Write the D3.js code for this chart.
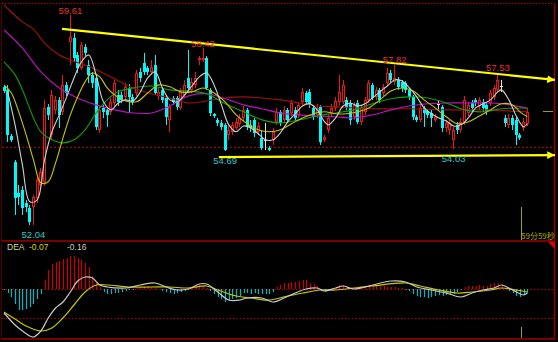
<!DOCTYPE html>
<html><head><meta charset="utf-8">
<script src="https://cdn.jsdelivr.net/npm/d3@7"></script>
<style>html,body{margin:0;padding:0;background:#000;}svg{display:block;}</style>
</head><body><svg id="c" width="558" height="342"></svg>
<script>
// ---- candle data [open, high, low, close] ----
const ohlc = [
[57.02,57.09,56.80,56.87],[56.91,57.09,55.04,55.29],[55.25,55.33,55.04,55.11],[54.32,54.39,52.41,53.02],
[53.20,53.49,52.77,53.06],[53.31,53.45,52.41,52.66],[52.84,52.95,52.52,52.70],[52.66,52.77,52.05,52.16],
[52.70,53.13,52.04,53.06],[53.02,53.81,52.84,53.67],[53.49,54.10,53.31,53.96],[53.60,56.55,53.45,56.26],
[56.30,56.41,55.83,56.01],[55.29,56.91,55.11,56.73],[56.19,56.69,56.05,56.55],[56.55,56.66,55.54,56.01],
[56.12,57.45,56.01,57.09],[57.09,57.20,56.69,56.80],[58.64,59.61,57.81,58.82],[58.78,58.96,57.92,58.06],
[58.17,58.28,57.52,57.70],[57.70,58.64,57.63,58.53],[58.46,58.57,58.13,58.24],[57.81,57.99,57.16,57.45],
[57.45,57.56,56.98,57.16],[57.34,57.45,55.47,55.58],[55.47,56.37,55.36,56.19],[56.26,56.37,55.90,56.12],
[56.19,56.30,55.58,56.01],[56.12,56.62,56.01,56.48],[56.44,57.27,56.33,57.16],[56.73,56.91,56.33,56.48],
[56.73,56.84,56.44,56.55],[56.66,57.16,56.55,57.02],[56.98,57.13,56.08,56.66],[56.66,56.77,56.37,56.48],
[56.80,57.63,56.69,57.52],[57.56,57.70,57.20,57.34],[57.88,58.24,57.45,57.56],[57.70,57.77,57.45,57.56],
[57.56,57.99,57.49,57.74],[57.81,58.17,56.73,56.80],[56.69,56.98,56.55,56.84],[56.91,57.02,56.44,56.55],
[56.62,56.73,55.65,55.94],[55.83,56.41,55.40,56.30],[56.62,56.69,56.37,56.48],[56.62,56.69,56.19,56.30],
[56.26,56.98,56.19,56.84],[56.73,57.27,56.62,57.09],[57.34,58.35,56.84,56.98],[56.91,57.34,56.80,57.20],
[57.09,57.56,56.98,57.34],[57.99,58.13,57.81,58.06],[57.99,58.42,57.92,58.06],[58.06,58.13,56.91,56.98],
[56.91,56.98,55.97,56.08],[56.05,56.08,55.90,55.97],[55.83,55.90,55.61,55.72],[55.72,55.83,55.47,55.58],
[55.65,55.72,54.69,54.75],[55.29,55.61,55.11,55.47],[55.40,55.76,55.29,55.65],[55.54,55.90,55.47,55.76],
[55.69,56.05,55.58,55.90],[55.90,56.33,55.79,56.19],[56.19,56.26,55.47,55.58],[55.65,55.83,55.40,55.54],
[55.83,55.90,55.22,55.36],[55.40,55.76,55.29,55.61],[55.18,55.47,54.75,54.82],[55.11,55.72,54.75,55.11],
[54.82,54.89,54.71,54.75],[55.11,55.54,54.93,55.40],[55.76,56.26,55.65,56.12],[56.12,56.19,55.61,55.72],
[55.83,56.33,55.72,56.19],[56.19,56.26,55.72,55.83],[56.08,56.55,55.97,56.44],[56.19,56.30,55.79,55.90],
[56.01,56.48,55.90,56.37],[56.48,56.98,56.37,56.84],[56.80,56.87,56.37,56.48],[56.84,56.95,56.26,56.37],
[56.26,56.37,55.83,55.94],[56.01,56.41,55.90,56.26],[56.30,56.37,54.93,55.04],[55.11,55.29,55.04,55.22],
[55.47,56.01,55.36,55.90],[56.08,56.41,55.97,56.26],[56.26,56.66,56.15,56.51],[56.48,57.45,56.37,56.84],
[56.48,57.27,56.41,57.09],[56.55,56.66,56.19,56.30],[56.44,56.55,55.65,55.83],[55.94,56.48,55.83,56.37],
[56.44,56.55,55.69,55.76],[55.76,56.37,55.65,56.26],[56.12,56.66,56.01,56.55],[56.55,57.27,56.44,57.16],
[57.09,57.16,56.55,56.62],[56.66,57.02,56.55,56.91],[56.91,56.98,56.44,56.55],[56.80,57.13,56.69,57.02],
[57.16,57.70,57.05,57.52],[57.52,57.63,57.16,57.27],[57.20,57.82,57.09,57.34],[57.27,57.38,56.91,57.02],
[57.20,57.27,56.84,56.98],[57.16,57.23,56.80,56.91],[56.91,56.98,56.55,56.66],[56.66,56.73,55.83,55.94],
[55.94,56.01,55.76,55.83],[55.83,56.37,55.76,56.26],[56.26,56.33,55.58,56.08],[56.15,56.23,55.90,56.01],
[56.08,56.19,55.58,55.90],[55.83,56.05,55.76,55.94],[56.41,56.55,56.19,56.41],[56.30,56.37,55.40,55.54],
[55.54,55.83,55.40,55.72],[55.47,55.83,55.29,55.72],[55.11,55.58,54.79,55.47],[55.65,55.76,55.33,55.47],
[55.47,55.90,55.36,55.76],[55.76,56.69,55.65,56.55],[56.08,56.48,55.97,56.37],[56.44,56.55,56.15,56.26],
[56.55,56.62,56.33,56.44],[56.33,56.66,56.19,56.55],[56.48,56.59,56.12,56.26],[56.37,56.44,56.01,56.12],
[56.44,56.91,56.33,56.80],[56.66,57.09,56.55,56.98],[56.91,57.53,56.80,57.27],[57.05,57.27,56.84,57.05],
[55.90,56.01,55.58,55.72],[55.65,56.05,55.54,55.90],[55.90,56.01,55.47,55.65],[55.83,55.94,54.93,55.29],
[55.29,55.36,55.11,55.18],[55.54,55.90,55.43,55.76],[55.69,56.26,55.61,56.12]
];
// ---- moving averages, read at candle indices [index, value] ----
const ma5 = [[1,56.84],[3,55.65],[5,54.21],[7,52.88],[9,52.95],[11,54.39],[13,55.40],[15,56.01],[17,56.66],[19,57.34],[21,57.92],[23,58.17],[25,57.45],[27,56.48],[29,56.19],[31,56.44],[33,56.55],[35,56.51],[37,56.84],[39,57.34],[41,57.56],[43,56.98],[45,56.55],[47,56.48],[49,56.73],[51,57.05],[53,57.38],[55,57.52],[57,57.09],[59,56.37],[61,55.65],[63,55.40],[65,55.61],[67,55.54],[69,55.33],[71,55.11],[73,55.11],[75,55.36],[77,55.76],[79,56.05],[81,56.33],[83,56.41],[85,56.19],[87,55.76],[88,55.65],[90,55.90],[92,56.33],[94,56.44],[96,56.33],[98,56.41],[100,56.62],[102,56.84],[104,57.05],[106,57.27],[108,57.23],[110,56.98],[112,56.66],[114,56.26],[116,56.05],[118,55.90],[120,55.79],[122,55.61],[124,55.65],[126,55.90],[128,56.26],[130,56.41],[132,56.55],[134,56.84],[135,56.91],[137,56.55],[139,55.97],[141,55.58],[142,55.69]];
const ma10 = [[0,57.09],[2,56.80],[4,56.12],[6,55.29],[8,54.39],[10,53.56],[12,53.60],[14,54.28],[16,55.18],[18,56.01],[20,56.66],[22,57.20],[24,57.52],[26,57.38],[28,56.98],[30,56.73],[33,56.51],[36,56.48],[39,56.80],[42,57.09],[45,57.02],[48,56.84],[51,56.84],[54,56.98],[57,56.80],[60,56.48],[63,56.01],[66,55.69],[69,55.47],[72,55.40],[75,55.47],[78,55.69],[81,55.90],[84,56.05],[87,56.12],[90,56.05],[93,56.05],[96,56.12],[99,56.26],[102,56.55],[105,56.87],[108,56.98],[111,56.87],[114,56.55],[117,56.26],[120,55.94],[123,55.69],[126,55.76],[129,55.97],[132,56.19],[135,56.41],[138,56.37],[140,56.12],[142,55.94]];
const ma20 = [[0,57.92],[3,57.45],[5,56.91],[8,55.90],[10,55.40],[13,55.11],[16,55.00],[19,55.11],[22,55.47],[25,56.08],[28,56.55],[31,56.84],[35,56.98],[40,57.05],[45,56.91],[50,56.87],[55,56.77],[60,56.41],[65,56.12],[70,55.83],[75,55.72],[80,55.83],[85,55.97],[90,56.08],[95,56.19],[100,56.41],[105,56.59],[110,56.66],[115,56.62],[120,56.44],[125,56.19],[130,56.12],[135,56.23],[142,56.26]];
const ma60 = [[0,59.07],[5,58.42],[10,57.56],[15,56.98],[20,56.62],[25,56.37],[30,56.19],[35,56.08],[40,56.08],[45,56.33],[50,56.69],[55,56.77],[60,56.59],[65,56.37],[70,56.23],[75,56.08],[80,56.01],[85,55.97],[90,55.94],[95,55.90],[100,56.01],[105,56.19],[110,56.33],[115,56.41],[120,56.44],[125,56.44],[130,56.44],[135,56.41],[142,56.26]];
const ma120 = [[0,59.97],[5,59.36],[8,59.10],[11,58.60],[15,58.17],[18,57.99],[24,57.70],[30,57.31],[35,56.98],[40,56.77],[45,56.62],[50,56.44],[55,56.51],[60,56.62],[65,56.66],[70,56.62],[75,56.55],[80,56.44],[85,56.33],[90,56.30],[95,56.26],[100,56.23],[110,56.23],[120,56.19],[130,56.19],[142,56.12]];
// ---- MACD ----
const macdHist = [-0.01,-0.04,-0.08,-0.15,-0.21,-0.21,-0.20,-0.18,-0.15,-0.10,-0.05,
0.09,0.19,0.25,0.27,0.28,0.30,0.31,0.33,0.33,0.31,0.29,0.26,0.22,0.13,0.06,0.02,
-0.03,-0.05,-0.05,-0.04,-0.04,-0.03,-0.02,-0.01,-0.01,
0.01,0.02,0.02,0.03,0.02,0.01,0.00,
-0.02,-0.03,-0.04,-0.05,-0.04,-0.03,-0.02,-0.01,
0.02,0.03,0.04,0.03,0.01,
-0.02,-0.05,-0.08,-0.10,-0.13,-0.12,-0.10,-0.09,-0.07,-0.04,-0.04,-0.05,-0.04,-0.05,-0.05,-0.05,-0.05,-0.03,
0.02,0.04,0.06,0.06,0.07,0.07,0.08,0.09,0.09,0.06,0.05,0.03,
-0.02,-0.03,-0.01,
0.01,0.02,0.04,0.04,0.02,0.01,0.01,0.02,0.03,0.03,0.04,0.03,0.03,0.03,0.03,0.02,0.02,0.02,0.01,0.01,
-0.01,-0.02,-0.05,-0.07,-0.08,-0.08,-0.09,-0.08,-0.07,-0.06,-0.07,-0.06,-0.06,-0.05,-0.03,-0.01,
0.02,0.03,0.03,0.03,0.04,0.03,0.03,0.05,0.06,0.06,0.04,0.01,
-0.02,-0.04,-0.07,-0.08,-0.06,-0.04];
const dif = [[0,-0.24],[3,-0.36],[5,-0.42],[7,-0.47],[8,-0.48],[10,-0.42],[12,-0.29],[14,-0.19],[16,-0.13],[18,-0.03],[20,0.08],[22,0.12],[24,0.11],[26,0.04],[28,0.02],[33,0.01],[37,0.04],[41,0.06],[44,0.02],[47,-0.01],[50,0.00],[53,0.05],[55,0.05],[58,-0.03],[61,-0.11],[64,-0.11],[66,-0.09],[70,-0.09],[73,-0.13],[76,-0.09],[79,-0.04],[82,0.00],[85,0.01],[87,-0.02],[90,0.01],[92,0.03],[95,0.00],[100,0.04],[105,0.08],[109,0.07],[112,0.02],[116,-0.01],[120,-0.04],[124,-0.08],[127,-0.04],[130,-0.01],[133,0.01],[135,0.04],[138,-0.01],[141,-0.06],[142,-0.04]];
const dea = [[0,-0.23],[3,-0.30],[6,-0.37],[10,-0.42],[13,-0.39],[16,-0.29],[19,-0.16],[22,-0.03],[25,0.04],[28,0.04],[34,0.02],[40,0.02],[45,0.02],[50,0.01],[55,0.03],[58,-0.01],[63,-0.07],[67,-0.09],[72,-0.11],[77,-0.07],[81,-0.04],[86,-0.01],[90,-0.01],[95,0.01],[100,0.03],[109,0.06],[113,0.03],[118,-0.01],[123,-0.04],[127,-0.03],[132,-0.01],[135,0.01],[139,-0.01],[142,-0.03]];
const macdTexts = ["DEA", "-0.07", "-0.16"];
// ---- annotations ----
const priceLabels = [
  {i:18, text:"59.61", at:"high"}, {i:54, text:"58.42", at:"high"},
  {i:106, text:"57.82", at:"high"}, {i:134, text:"57.53", at:"high"},
  {i:8, text:"52.04", at:"low"}, {i:60, text:"54.69", at:"low"},
  {i:122, text:"54.03", at:"low"}
];
const trendLines = [
  {i0:15.74, p0:59.11, i1:149.5, p1:57.27},
  {i0:58.3, p0:54.49, i1:149.5, p1:54.56}
];
const mainGrid = [54.86];
const macdGrid = [0, -0.29];
const timeText = "59分59秒";

// ---- scales ----
const svg = d3.select("#c");
const x = d3.scaleLinear().domain([0, 142]).range([4, 527.3]);
const y = d3.scaleLinear().domain([52.04, 59.61]).range([225, 15]);
const ym = d3.scaleLinear().domain([-0.5, 0.35]).range([339, 254]);
const UP = "#f01414", DOWN = "#00f8f8";
const font = "'Liberation Sans', Arial, sans-serif";

svg.append("rect").attr("width", 558).attr("height", 342).attr("fill", "#000");

// frame
const frame = svg.append("g");
frame.append("line").attr("x1", 2).attr("x2", 555).attr("y1", 3.5).attr("y2", 3.5)
  .attr("stroke", "#b00000").attr("stroke-dasharray", "1.5,1.5");
frame.append("line").attr("x1", 1.5).attr("x2", 1.5).attr("y1", 3).attr("y2", 340).attr("stroke", "#500000");
frame.append("line").attr("x1", 554.5).attr("x2", 554.5).attr("y1", 3).attr("y2", 340).attr("stroke", "#900000").attr("stroke-width", 1.5);
frame.append("line").attr("x1", 2).attr("x2", 555).attr("y1", 241).attr("y2", 241).attr("stroke", "#7a0000").attr("stroke-width", 2);
frame.append("line").attr("x1", 2).attr("x2", 555).attr("y1", 339).attr("y2", 339).attr("stroke", "#7a0000").attr("stroke-width", 2);
mainGrid.forEach(p => frame.append("line").attr("x1", 2).attr("x2", 554).attr("y1", Math.round(y(p)) + 0.5).attr("y2", Math.round(y(p)) + 0.5)
  .attr("stroke", "#b00000").attr("stroke-dasharray", "2,2"));
macdGrid.forEach(v => frame.append("line").attr("x1", 2).attr("x2", 554).attr("y1", Math.round(ym(v)) + 0.5).attr("y2", Math.round(ym(v)) + 0.5)
  .attr("stroke", "#b00000").attr("stroke-dasharray", "1.5,2"));
frame.append("path").attr("d", "M548,242L555,242L555,249Z").attr("fill", "#e00000");

// candles
const gC = svg.append("g");
ohlc.forEach((d, i) => {
  const [o, h, l, c] = d;
  const L = Math.round(x(i) - 1.5), xw = L + 1.5;
  const yo = Math.round(y(o)), yc = Math.round(y(c)), yh = Math.round(y(h)), yl = Math.round(y(l));
  if (c > o) {
    gC.append("line").attr("x1", xw).attr("x2", xw).attr("y1", yh).attr("y2", yc).attr("stroke", UP);
    gC.append("line").attr("x1", xw).attr("x2", xw).attr("y1", yo).attr("y2", yl).attr("stroke", UP);
    gC.append("rect").attr("x", L + 0.5).attr("y", yc + 0.5).attr("width", 2).attr("height", Math.max(yo - yc - 1, 1))
      .attr("fill", "none").attr("stroke", UP);
  } else if (c < o) {
    gC.append("line").attr("x1", xw).attr("x2", xw).attr("y1", yh).attr("y2", yl).attr("stroke", DOWN);
    gC.append("rect").attr("x", L).attr("y", yo).attr("width", 3).attr("height", Math.max(yc - yo, 1)).attr("fill", DOWN);
  } else {
    gC.append("line").attr("x1", xw).attr("x2", xw).attr("y1", yh).attr("y2", yl).attr("stroke", "#e0e0e0");
    gC.append("line").attr("x1", L).attr("x2", L + 3).attr("y1", yo + 0.5).attr("y2", yo + 0.5).attr("stroke", "#e0e0e0");
  }
});

// MA lines
const mline = d3.line().x(d => x(d[0])).y(d => y(d[1])).curve(d3.curveCatmullRom.alpha(0.5));
[[ma120, "#a01010"], [ma60, "#c010c0"], [ma20, "#10a010"], [ma10, "#c8c800"], [ma5, "#d0d0d0"]].forEach(([data, col]) => {
  svg.append("path").attr("d", mline(data)).attr("fill", "none").attr("stroke", col).attr("stroke-width", 1.1);
});

// trend lines with arrows
svg.append("defs").append("marker").attr("id", "arr").attr("viewBox", "0 0 8 8").attr("refX", 8).attr("refY", 4)
  .attr("markerWidth", 3.5).attr("markerHeight", 3.5).attr("markerUnits", "strokeWidth").attr("orient", "auto")
  .append("path").attr("d", "M0,0L8,4L0,8Z").attr("fill", "#ffff00");
trendLines.forEach(t => {
  svg.append("line").attr("x1", x(t.i0)).attr("y1", y(t.p0)).attr("x2", x(t.i1)).attr("y2", y(t.p1))
    .attr("stroke", "#ffff00").attr("stroke-width", 2.2).attr("marker-end", "url(#arr)");
});

// price labels
priceLabels.forEach(lb => {
  const d = ohlc[lb.i];
  const yy = lb.at === "high" ? y(d[1]) - 1.5 : y(d[2]) + 13;
  svg.append("text").attr("x", x(lb.i)).attr("y", yy).attr("text-anchor", "middle")
    .attr("font-family", font).attr("font-size", 9.5)
    .attr("fill", lb.at === "high" ? "#e83030" : "#30c8c8").text(lb.text);
});

// markers on right side
svg.append("line").attr("x1", 543).attr("x2", 553).attr("y1", 111.5).attr("y2", 111.5).attr("stroke", "#a0a000");
svg.append("line").attr("x1", 521.5).attr("x2", 521.5).attr("y1", 207).attr("y2", 240).attr("stroke", "#a0a000");
svg.append("line").attr("x1", 521.5).attr("x2", 521.5).attr("y1", 327).attr("y2", 338).attr("stroke", "#a0a000");
svg.append("text").attr("x", 521).attr("y", 239).attr("font-family", "'Noto Sans CJK SC', sans-serif")
  .attr("font-size", 8).attr("fill", "#a8a800").text(timeText);

// MACD histogram
const gH = svg.append("g");
macdHist.forEach((v, i) => {
  if (v === 0) return;
  const xx = Math.round(x(i)) + 0.5;
  gH.append("line").attr("x1", xx).attr("x2", xx).attr("y1", ym(0)).attr("y2", ym(v))
    .attr("stroke", v > 0 ? "#c80000" : "#00b8c0").attr("stroke-width", 1.2);
});
const ml = d3.line().x(d => x(d[0])).y(d => ym(d[1])).curve(d3.curveCatmullRom.alpha(0.5));
svg.append("path").attr("d", ml(dea)).attr("fill", "none").attr("stroke", "#c8c800").attr("stroke-width", 1.2);
svg.append("path").attr("d", ml(dif)).attr("fill", "none").attr("stroke", "#c8c8c8").attr("stroke-width", 1.2);

// MACD texts
const tg = svg.append("g").attr("font-family", font).attr("font-size", 8.5);
tg.append("text").attr("x", 7).attr("y", 250).attr("fill", "#d8d890").text(macdTexts[0]);
tg.append("text").attr("x", 29).attr("y", 250).attr("fill", "#d8d800").text(macdTexts[1]);
tg.append("text").attr("x", 67).attr("y", 250).attr("fill", "#c8c8c8").text(macdTexts[2]);
</script></body></html>
